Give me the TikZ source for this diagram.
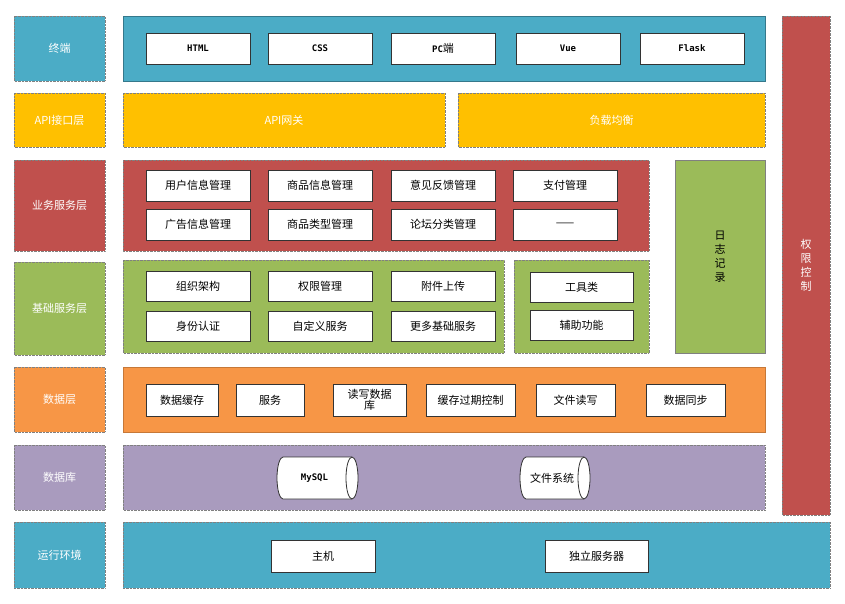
\documentclass[tikz,border=0pt]{standalone}
\usepackage{fontspec}
\setmainfont{Noto Sans CJK SC}
\newfontfamily\monof{DejaVu Sans Mono}
\begin{document}
\begin{tikzpicture}[x=1pt,y=-1pt,
  lbl/.style={draw=gray,densely dotted,text=white,font=\fontsize{11}{13}\selectfont},
  band/.style={draw=gray,densely dotted},
  ib/.style={draw=black!80,fill=white,line width=0.8pt,font=\fontsize{11}{13}\selectfont},
  mb/.style={ib,font=\monof\bfseries\fontsize{9}{10}\selectfont}]
\definecolor{cteal}{HTML}{4BACC6}
\definecolor{cgold}{HTML}{FFC000}
\definecolor{cred}{HTML}{C0504D}
\definecolor{cgreen}{HTML}{9BBB59}
\definecolor{corange}{HTML}{F79646}
\definecolor{cpurple}{HTML}{A99BBE}
\useasboundingbox (0,0) rectangle (845,603);
\newcommand\bx[6]{\path[#1] (#2,#3) rectangle (#4,#5) node[midway,align=center] {#6};}
% left labels
\bx{lbl,fill=cteal}{14}{16}{105}{81}{终端}
\bx{lbl,fill=cgold}{14}{93}{105}{147}{API接口层}
\bx{lbl,fill=cred}{14}{160}{105}{251}{业务服务层}
\bx{lbl,fill=cgreen}{14}{262}{105}{355}{基础服务层}
\bx{lbl,fill=corange}{14}{367}{105}{432}{数据层}
\bx{lbl,fill=cpurple}{14}{445}{105}{510}{数据库}
\bx{lbl,fill=cteal}{14}{522}{105}{588}{运行环境}
% bands
\path[draw=cteal!70!black,fill=cteal] (123,16) rectangle (765,81);
\bx{band,fill=cgold,text=white,font=\fontsize{11}{13}\selectfont}{123}{93}{445}{147}{API网关}
\bx{band,fill=cgold,text=white,font=\fontsize{11}{13}\selectfont}{458}{93}{765}{147}{负载均衡}
\path[band,fill=cred] (123,160) rectangle (649,251);
\path[band,fill=cgreen] (123,260) rectangle (504,353);
\path[band,fill=cgreen] (514,260) rectangle (649,353);
\bx{draw=gray,fill=cgreen,font=\fontsize{11}{14}\selectfont}{675}{160}{765}{353}{日\\志\\记\\录}
\bx{band,fill=cred,text=white,font=\fontsize{11}{14}\selectfont}{782}{16}{830}{515}{权\\限\\控\\制}
\path[draw=corange!80!black,fill=corange] (123,367) rectangle (765,432);
\path[band,fill=cpurple] (123,445) rectangle (765,510);
\path[band,fill=cteal] (123,522) rectangle (830,588);
% row1
\bx{mb}{146}{33}{250}{64}{HTML}
\bx{mb}{268}{33}{372}{64}{CSS}
\bx{mb}{391}{33}{495}{64}{PC{\rmfamily\mdseries\fontsize{11}{13}\selectfont 端}}
\bx{mb}{516}{33}{620}{64}{Vue}
\bx{mb}{640}{33}{744}{64}{Flask}
% row3
\bx{ib}{146}{170}{250}{201}{用户信息管理}
\bx{ib}{268}{170}{372}{201}{商品信息管理}
\bx{ib}{391}{170}{495}{201}{意见反馈管理}
\bx{ib}{513}{170}{617}{201}{支付管理}
\bx{ib}{146}{209}{250}{240}{广告信息管理}
\bx{ib}{268}{209}{372}{240}{商品类型管理}
\bx{ib}{391}{209}{495}{240}{论坛分类管理}
\bx{ib}{513}{209}{617}{240}{——}
% row4
\bx{ib}{146}{271}{250}{301}{组织架构}
\bx{ib}{268}{271}{372}{301}{权限管理}
\bx{ib}{391}{271}{495}{301}{附件上传}
\bx{ib}{146}{311}{250}{341}{身份认证}
\bx{ib}{268}{311}{372}{341}{自定义服务}
\bx{ib}{391}{311}{495}{341}{更多基础服务}
\bx{ib}{530}{272}{633}{302}{工具类}
\bx{ib}{530}{310}{633}{340}{辅助功能}
% row5
\bx{ib}{146}{384}{218}{416}{数据缓存}
\bx{ib}{236}{384}{304}{416}{服务}
\bx{ib,font=\fontsize{11}{11}\selectfont}{333}{384}{406}{416}{读写数据\\库}
\bx{ib}{426}{384}{515}{416}{缓存过期控制}
\bx{ib}{536}{384}{615}{416}{文件读写}
\bx{ib}{646}{384}{725}{416}{数据同步}
% cylinders
\newcommand\cyl[4]{%
 \path[draw=black!80,fill=white,line width=0.8pt] (#1+6,457) -- (#2-6,457) arc[start angle=90,end angle=-90,x radius=6pt,y radius=21pt] -- (#1+6,499) arc[start angle=270,end angle=90,x radius=6pt,y radius=21pt] -- cycle;
 \draw[black!80,line width=0.8pt] (#2-6,457) arc[start angle=90,end angle=270,x radius=6pt,y radius=21pt];
 \node[font=#4] at ({(#1+#2)/2-3},478) {#3};}
\cyl{277}{358}{MySQL}{\monof\bfseries\fontsize{9}{10}\selectfont}
\cyl{520}{590}{文件系统}{\fontsize{11}{13}\selectfont}
% row7
\bx{ib}{271}{540}{375}{572}{主机}
\bx{ib}{545}{540}{648}{572}{独立服务器}
\end{tikzpicture}
\end{document}
